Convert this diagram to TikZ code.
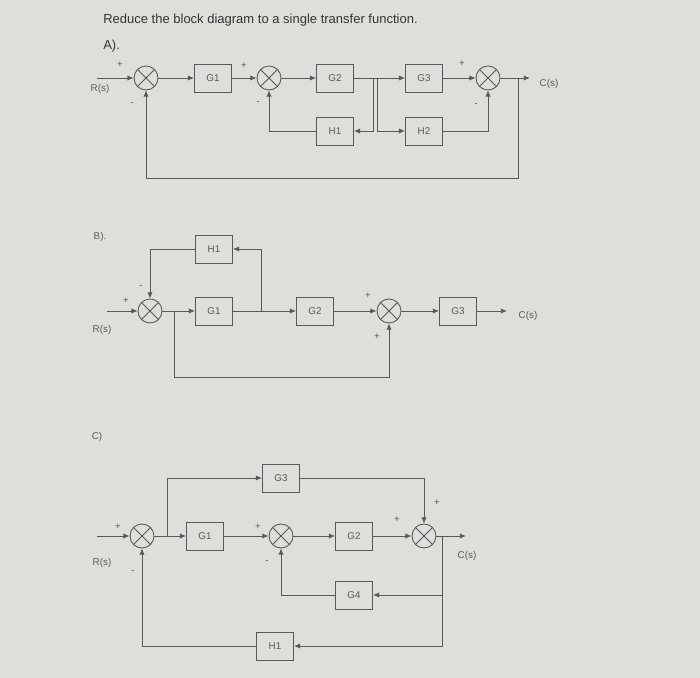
\documentclass[tikz,border=0pt]{standalone}
\usepackage{fontspec}
\setmainfont{Liberation Sans}
\usepackage{xcolor}
\usepackage{tikz}
\usetikzlibrary{arrows.meta}

\definecolor{paper}{RGB}{224,222,219}
\definecolor{ink}{RGB}{88,88,88}

\begin{document}
\begin{tikzpicture}[x=0.02cm, y=-0.02cm, color=ink, line width=0.5pt,
    >={Latex[length=3.5pt,width=3pt]},
    blk/.style={draw, fill=paper, minimum width=0.74cm, minimum height=0.56cm, inner sep=0pt, font=\fontsize{5.6}{6}\selectfont},
    sumc/.style={draw, circle, minimum size=0.48cm, inner sep=0pt},
    lbl/.style={font=\fontsize{5.6}{6}\selectfont},
    sgn/.style={font=\fontsize{5.5}{6}\selectfont}]
    \fill[paper] (0,0) rectangle (700,678);

    \node[anchor=west, font=\fontsize{7.4}{9}\selectfont, text=black!80] (title) at (97,20) {Reduce the block diagram to a single transfer function.};
    \node[anchor=west, font=\fontsize{7.4}{9}\selectfont, text=black!80] (partA) at (97,46) {A).};

    % Part A
    \node[sumc] (sA1) at (146,78) {};
    \node[blk] (G1a) at (213,78) {G1};
    \node[sumc] (sA2) at (269,78) {};
    \node[blk] (G2a) at (335,78) {G2};
    \node[blk] (G3a) at (424,78) {G3};
    \node[sumc] (sA3) at (488,78) {};
    \node[blk] (H1a) at (335,131) {H1};
    \node[blk] (H2a) at (424,131) {H2};
    \node[lbl] (RA) at (100,89) {R(s)};
    \node[lbl] (CA) at (549,84) {C(s)};
    \node[sgn] (pA1) at (120,65) {+};
    \node[sgn] (mA1) at (132,104) {-};
    \node[sgn] (pA2) at (244,66) {+};
    \node[sgn] (mA2) at (258,103) {-};
    \node[sgn] (pA3) at (462,64) {+};
    \node[sgn] (mA3) at (476,105) {-};
    \coordinate (inA) at (97,78);
    \coordinate (outA) at (530,78);
    \coordinate (bA1) at (373,78);
    \coordinate (bA2) at (377,78);
    \coordinate (fbA) at (518,78);

    \draw[->] (inA) -- (sA1);
    \draw[->] (sA1) -- (G1a);
    \draw[->] (G1a) -- (sA2);
    \draw[->] (sA2) -- (G2a);
    \draw[->] (G2a) -- (G3a);
    \draw[->] (G3a) -- (sA3);
    \draw[->] (sA3) -- (outA);
    \draw[->] (bA1) |- (H1a);
    \draw[->] (bA2) |- (H2a);
    \draw[->] (H1a) -| (sA2);
    \draw[->] (H2a) -| (sA3);
    \draw[->] (fbA) -- ++(0,100) -| (sA1);

    % Part B
    \node[lbl] (partB) at (100,237) {B).};
    \node[sumc] (sB1) at (150,311) {};
    \node[blk] (G1b) at (214,311) {G1};
    \node[blk] (H1b) at (214,249) {H1};
    \node[blk] (G2b) at (315,311) {G2};
    \node[sumc] (sB2) at (389,311) {};
    \node[blk] (G3b) at (458,311) {G3};
    \node[lbl] (RB) at (102,330) {R(s)};
    \node[lbl] (CB) at (528,316) {C(s)};
    \node[sgn] (pB1) at (126,301) {+};
    \node[sgn] (mB1) at (141,287) {-};
    \node[sgn] (pB2) at (368,296) {+};
    \node[sgn] (qB2) at (377,337) {+};
    \coordinate (inB) at (107,311);
    \coordinate (outB) at (507,311);
    \coordinate (bB1) at (174,311);
    \coordinate (bB2) at (261,311);

    \draw[->] (inB) -- (sB1);
    \draw[->] (sB1) -- (G1b);
    \draw[->] (G1b) -- (G2b);
    \draw[->] (G2b) -- (sB2);
    \draw[->] (sB2) -- (G3b);
    \draw[->] (G3b) -- (outB);
    \draw[->] (bB2) |- (H1b);
    \draw[->] (H1b) -| (sB1);
    \draw[->] (bB1) -- ++(0,66) -| (sB2);

    % Part C
    \node[lbl] (partC) at (97,437) {C)};
    \node[sumc] (sC1) at (142,536) {};
    \node[blk] (G1c) at (205,536) {G1};
    \node[sumc] (sC2) at (281,536) {};
    \node[blk] (G2c) at (354,536) {G2};
    \node[sumc] (sC3) at (424,536) {};
    \node[blk] (G3c) at (281,478) {G3};
    \node[blk] (G4c) at (354,595) {G4};
    \node[blk] (H1c) at (275,646) {H1};
    \node[lbl] (RC) at (102,563) {R(s)};
    \node[lbl] (CC) at (467,556) {C(s)};
    \node[sgn] (pC1) at (118,527) {+};
    \node[sgn] (mC1) at (133,572) {-};
    \node[sgn] (pC2) at (258,527) {+};
    \node[sgn] (mC2) at (267,562) {-};
    \node[sgn] (pC3) at (397,520) {+};
    \node[sgn] (qC3) at (437,503) {+};
    \coordinate (inC) at (97,536);
    \coordinate (outC) at (466,536);
    \coordinate (bC1) at (167,536);
    \coordinate (bC2) at (442,536);
    \coordinate (bC3) at (442,595);

    \draw[->] (inC) -- (sC1);
    \draw[->] (sC1) -- (G1c);
    \draw[->] (G1c) -- (sC2);
    \draw[->] (sC2) -- (G2c);
    \draw[->] (G2c) -- (sC3);
    \draw[->] (sC3) -- (outC);
    \draw[->] (bC1) |- (G3c);
    \draw[->] (G3c) -| (sC3);
    \draw[->] (bC2) |- (H1c);
    \draw[->] (bC3) -- (G4c);
    \draw[->] (G4c) -| (sC2);
    \draw[->] (H1c) -| (sC1);

    % crosses in the summing points
    \foreach \s in {sA1,sA2,sA3,sB1,sB2,sC1,sC2,sC3}
        \draw (\s.north west) -- (\s.south east) (\s.north east) -- (\s.south west);
\end{tikzpicture}
\end{document}
